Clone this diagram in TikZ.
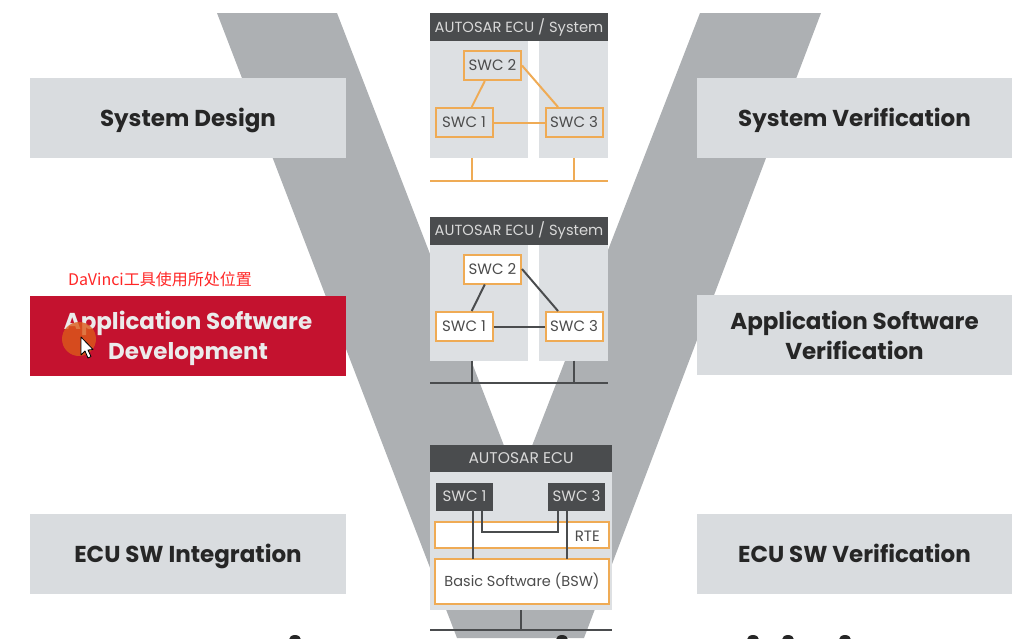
\documentclass[tikz,border=0pt]{standalone}
\usepackage{fontspec}
\setmainfont{Poppins}
\newfontfamily\cjk{Noto Sans CJK SC}
\definecolor{vgrey}{HTML}{ADB0B3}
\definecolor{boxgrey}{HTML}{D9DCDF}
\definecolor{panelgrey}{HTML}{DDE0E3}
\definecolor{headgrey}{HTML}{4A4C4E}
\definecolor{swcorange}{HTML}{EFAB55}
\definecolor{davinci}{HTML}{C4122F}
\definecolor{pointer}{HTML}{DB5A1A}
\begin{document}
\begin{tikzpicture}[x=1pt,y=-1pt]
	\tikzstyle{phase}=[fill=boxgrey,minimum width=316pt,minimum height=80pt,inner sep=0pt,align=center,font=\fontsize{23}{30}\selectfont\bfseries,text=black!85]
	\tikzstyle{oneline}=[text height=20pt,text depth=3pt]
	\tikzstyle{head}=[fill=headgrey,minimum height=28pt,inner sep=0pt,text=white!85!black,font=\fontsize{14.7}{16}\selectfont]
	\tikzstyle{panel}=[fill=panelgrey,inner sep=0pt]
	\tikzstyle{swc}=[draw=swcorange,line width=2pt,minimum width=57pt,minimum height=29pt,inner sep=0pt,text=black!70,font=\fontsize{15}{16}\selectfont]
	\tikzstyle{swcdark}=[fill=headgrey,minimum width=57pt,minimum height=28pt,inner sep=0pt,text=white!85!black,font=\fontsize{15}{16}\selectfont]
	\tikzstyle{orangeline}=[draw=swcorange,line width=2pt]
	\tikzstyle{darkline}=[draw=headgrey,line width=2pt]
	
	\useasboundingbox (0,0) rectangle (1033,638);
	
	% the V
	\fill[vgrey] (217,13) -- (337,13) -- (518,482) -- (700,13) -- (821,13) -- (584,638) -- (457,638) -- cycle;
	
	% phases
	\node[phase,oneline](sysDesign) at (188,117.5){System Design};
	\node[phase,fill=davinci,text=white!92!black,text depth=0pt](appDev) at (188,335.5){Application Software\\Development};
	\node[phase,oneline](ecuInt) at (188,554){ECU SW Integration};
	\node[phase,oneline,minimum width=315pt](sysVer) at (854.5,117.5){System Verification};
	\node[phase,minimum width=315pt](appVer) at (854.5,335){Application Software\\Verification};
	\node[phase,oneline,minimum width=315pt](ecuVer) at (854.5,554){ECU SW Verification};
	
	\node[text=red!85!white,font=\cjk\fontsize{16}{18}\selectfont,inner sep=0pt](tool) at (160,279.5){DaVinci工具使用所处位置};
	
	% mouse pointer
	\fill[pointer,opacity=.8] (79,339) circle (17);
	\draw[black,fill=white,line width=.8pt,line join=round] (81,337) -- (81,355) -- (85,351) -- (88,358) -- (91,356.5) -- (88,350) -- (93,349.5) -- cycle;
	
	% system level
	\node[panel,minimum width=98pt,minimum height=117pt](panelA1) at (479,99.5){};
	\node[panel,minimum width=69pt,minimum height=117pt](panelA2) at (573.5,99.5){};
	\node[head,minimum width=178pt](headA) at (519,27){AUTOSAR ECU / System};
	\node[swc](swcA2) at (492.5,65.5){SWC 2};
	\node[swc](swcA1) at (464,122.5){SWC 1};
	\node[swc](swcA3) at (574,122.5){SWC 3};
	\coordinate(busAl) at (430,180.5);
	\coordinate(busAr) at (608,180.5);
	\coordinate(stubA1) at (472,180.5);
	\coordinate(stubA2) at (574,180.5);
	
	\draw[orangeline] (swcA2) -- (swcA1);
	\draw[orangeline] (swcA2.east) -- ([xshift=-16pt]swcA3.north);
	\draw[orangeline] (swcA1) -- (swcA3);
	\draw[orangeline] (busAl) -- (busAr);
	\draw[orangeline] (panelA1.south -| stubA1) -- (stubA1);
	\draw[orangeline] (panelA2.south -| stubA2) -- (stubA2);
	
	% application level
	\node[panel,minimum width=98pt,minimum height=116pt](panelB1) at (479,302.5){};
	\node[panel,minimum width=69pt,minimum height=116pt](panelB2) at (573.5,302.5){};
	\node[head,minimum width=178pt](headB) at (519,230.5){AUTOSAR ECU / System};
	\node[swc,fill=white](swcB2) at (492.5,269){SWC 2};
	\node[swc,fill=white](swcB1) at (464,326.5){SWC 1};
	\node[swc,fill=white](swcB3) at (574,326.5){SWC 3};
	\coordinate(busBl) at (430,383);
	\coordinate(busBr) at (608,383);
	\coordinate(stubB1) at (472,383);
	\coordinate(stubB2) at (574,383);
	
	\draw[darkline] (swcB2) -- (swcB1);
	\draw[darkline] (swcB2.east) -- ([xshift=-16pt]swcB3.north);
	\draw[darkline] (swcB1) -- (swcB3);
	\draw[darkline] (busBl) -- (busBr);
	\draw[darkline] (panelB1.south -| stubB1) -- (stubB1);
	\draw[darkline] (panelB2.south -| stubB2) -- (stubB2);
	
	% ECU level
	\node[panel,minimum width=182pt,minimum height=139pt](panelC) at (521,540.5){};
	\node[head,minimum width=182pt,minimum height=27pt,font=\fontsize{15.5}{16}\selectfont](headC) at (521,458.5){AUTOSAR ECU};
	\node[swcdark](swcC1) at (464.5,496.5){SWC 1};
	\node[swcdark](swcC3) at (576.5,496.5){SWC 3};
	\node[swc,fill=white,minimum width=174pt,minimum height=26pt](rte) at (522,535){};
	\node[swc,fill=white,minimum width=174pt,minimum height=45pt,font=\fontsize{14.5}{16}\selectfont](bsw) at (522,581.5){Basic Software (BSW)};
	\node[text=black!70,font=\fontsize{15}{16}\selectfont,inner sep=0pt,anchor=east](rteLabel) at (600,536){RTE};
	\coordinate(busCl) at (430,629.5);
	\coordinate(busCr) at (612,629.5);
	\coordinate(stubC) at (521,629.5);
	\coordinate(linkL) at (482,532);
	\coordinate(linkR) at (558,532);
	\coordinate(dropL) at (473,559);
	\coordinate(dropR) at (567,559);
	
	\draw[darkline] (swcC1.south -| dropL) -- (dropL);
	\draw[darkline] (swcC3.south -| dropR) -- (dropR);
	\draw[darkline] (swcC1.south -| linkL) -- (linkL) -- (linkR) -- (swcC3.south -| linkR);
	\draw[darkline] (panelC.south -| stubC) -- (stubC);
	\draw[darkline] (busCl) -- (busCr);
	
	% tops of the next row, cut off by the edge
	\foreach \tipx in {295,562,753,788,845}
		\fill[black!85] (\tipx,639.5) ellipse (6 and 4.5);
\end{tikzpicture}
\end{document}
